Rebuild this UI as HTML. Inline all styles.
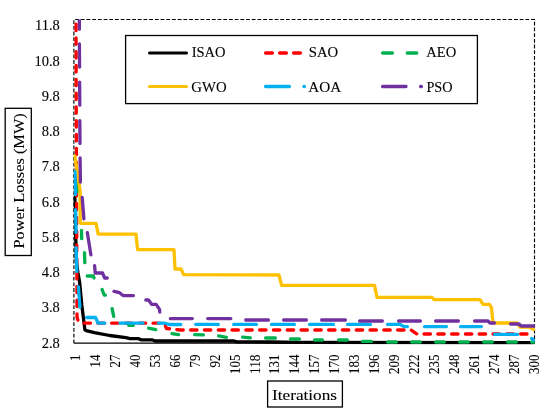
<!DOCTYPE html>
<html lang="en"><head><meta charset="utf-8"><title>Convergence curves</title>
<style>html,body{margin:0;padding:0;background:#fff;}body{width:550px;height:414px;overflow:hidden;}</style></head>
<body>
<svg width="550" height="414" viewBox="0 0 550 414" style="display:block">
<defs><clipPath id="plot"><rect x="73.5" y="19.5" width="461.5" height="325.2"/></clipPath></defs>
<rect width="550" height="414" fill="#ffffff"/>
<path d="M73.9,343.2 V19.5 H534.5 V343.2" fill="none" stroke="#000" stroke-width="1.15" stroke-dasharray="3.8 1.9"/>
<line x1="74.0" y1="343.2" x2="534.5" y2="343.2" stroke="#000" stroke-width="1.3"/>
<g clip-path="url(#plot)">
<path d="M74.8,197.0 L75.3,215.0 L75.8,240.0 L76.4,262.0 L78.0,273.0 L79.6,282.0 L81.8,305.0 L84.9,329.8 L86.2,330.6 L94.4,332.7 L109.6,335.5 L126.0,337.6 L130.0,338.7 L138.7,338.7 L141.0,339.8 L152.0,339.8 L155.0,341.0 L234.0,341.0 L237.0,341.8 L270.0,342.0 L300.0,342.4 L533.7,342.6" fill="none" stroke="#000000" stroke-width="3.3" stroke-linejoin="round" stroke-linecap="round"/>
<path d="M76.0,-3.5 L76.2,100.0 L76.6,200.0 L77.0,300.0 L77.0,317.0 L78.0,320.5 L80.0,322.6 L82.0,323.2 L164.5,323.2 L166.5,328.6 L171.0,328.8 L180.0,330.0 L411.0,330.0 L417.0,334.0 L533.7,334.0" fill="none" stroke="#FF0000" stroke-width="3.3" stroke-linejoin="round" stroke-linecap="round" stroke-dasharray="6.4 7.4"/>
<path d="M77.3,182.6 L77.6,191.4 M81.5,230.3 L81.7,238.6 M84.5,252.6 L84.8,262.7 M87.2,276.0 L93.3,276.0 L94.0,278.0 M102.1,289.5 L104.2,295.0 L105.4,295.2 M112.1,308.6 L113.7,316.4 M128.7,325.3 L133.3,325.3 M148.6,328.1 L155.7,329.7 M172.0,333.6 L178.6,334.7 M194.6,334.7 L203.4,334.9 M218.6,335.9 L226.4,337.3 M242.6,337.1 L250.4,337.9 M265.6,338.0 L275.4,338.0 M290.6,339.0 L299.4,339.0 M314.6,340.0 L322.4,340.0 M338.6,340.0 L347.4,340.0 M362.6,341.4 L371.4,341.4 M387.6,342.0 L396.4,342.0 M411.6,342.0 L420.4,342.0 M435.6,342.0 L444.4,342.0 M459.6,342.0 L468.4,342.0 M483.6,342.0 L492.4,342.0 M507.6,342.0 L516.4,342.0 M531.6,342.0 L538.4,342.0" fill="none" stroke="#00B050" stroke-width="3.3" stroke-linecap="round" stroke-linejoin="round"/>
<path d="M74.8,156.0 L78.6,180.0 L80.2,192.0 L80.2,223.3 L96.0,223.3 L98.2,234.2 L136.0,234.2 L137.6,249.6 L174.0,249.6 L175.0,269.0 L181.0,269.0 L183.6,274.6 L279.0,275.0 L281.6,285.4 L374.5,285.4 L377.0,297.4 L432.0,297.4 L434.0,299.6 L480.0,299.6 L483.0,304.4 L489.5,304.4 L491.5,308.0 L493.0,323.0 L517.0,323.0 L520.0,327.0 L529.0,327.0 L533.7,329.5" fill="none" stroke="#FFC000" stroke-width="3.3" stroke-linejoin="round" stroke-linecap="round"/>
<path d="M75.0,171.6 L75.5,194.4 M75.6,209.6 L76.0,232.4 M76.1,247.6 L76.9,271.4 M78.4,286.6 L79.9,307.1 M86.7,317.5 L95.5,317.5 L98.2,323.2 L104.8,323.2 M120.1,323.2 L143.0,323.2 M158.3,323.2 L165.0,323.2 L169.0,324.5 L180.8,324.5 M195.7,324.4 L218.3,324.4 M233.7,324.4 L256.4,324.4 M271.6,324.4 L294.4,324.4 M309.6,324.4 L333.4,324.4 M347.6,324.4 L370.4,324.4 M387.6,324.4 L400.0,324.4 L404.0,326.6 L407.4,326.6 M424.6,326.6 L446.4,326.6 M460.6,326.6 L481.4,326.6 M494.6,334.4 L517.4,334.4 M531.7,338.6 L533.3,339.9" fill="none" stroke="#00B0F0" stroke-width="3.3" stroke-linecap="round" stroke-linejoin="round"/>
<path d="M79.3,11.6 L79.4,29.2 M79.4,43.9 L79.6,67.0 M79.6,82.1 L79.8,105.2 M79.8,120.6 L80.0,143.4 M80.1,158.0 L80.4,182.0 M82.2,197.4 L83.9,218.8 M87.3,232.6 L90.9,254.8 M94.6,265.6 L95.2,273.0 L102.5,273.0 L104.7,278.0 L107.3,278.0 M114.0,291.4 L119.5,292.7 L123.0,295.5 L133.4,295.6 M145.8,300.0 L148.5,300.0 L151.8,304.4 L156.2,304.4 L159.5,309.3 L159.8,312.0 M170.3,318.6 L192.3,318.6 M207.7,318.6 L230.8,318.6 M245.7,320.0 L268.4,320.0 M283.6,320.0 L306.4,320.0 M321.6,320.0 L345.4,320.0 M359.6,321.0 L382.4,321.0 M398.6,321.0 L420.4,321.0 M435.6,321.0 L458.4,321.0 M474.6,321.0 L488.0,321.0 L490.0,323.0 L494.4,323.0 M510.6,324.0 L519.0,324.0 L521.0,326.0 L538.4,326.0" fill="none" stroke="#7030A0" stroke-width="3.3" stroke-linecap="round" stroke-linejoin="round"/>
</g>
<text x="59.8" y="347.7" text-anchor="end" font-size="14.5" font-family="'Liberation Serif', serif" fill="#000" stroke="#000" stroke-width="0.1">2.8</text>
<text x="59.8" y="312.4" text-anchor="end" font-size="14.5" font-family="'Liberation Serif', serif" fill="#000" stroke="#000" stroke-width="0.1">3.8</text>
<text x="59.8" y="277.1" text-anchor="end" font-size="14.5" font-family="'Liberation Serif', serif" fill="#000" stroke="#000" stroke-width="0.1">4.8</text>
<text x="59.8" y="241.9" text-anchor="end" font-size="14.5" font-family="'Liberation Serif', serif" fill="#000" stroke="#000" stroke-width="0.1">5.8</text>
<text x="59.8" y="206.6" text-anchor="end" font-size="14.5" font-family="'Liberation Serif', serif" fill="#000" stroke="#000" stroke-width="0.1">6.8</text>
<text x="59.8" y="171.3" text-anchor="end" font-size="14.5" font-family="'Liberation Serif', serif" fill="#000" stroke="#000" stroke-width="0.1">7.8</text>
<text x="59.8" y="136.0" text-anchor="end" font-size="14.5" font-family="'Liberation Serif', serif" fill="#000" stroke="#000" stroke-width="0.1">8.8</text>
<text x="59.8" y="100.7" text-anchor="end" font-size="14.5" font-family="'Liberation Serif', serif" fill="#000" stroke="#000" stroke-width="0.1">9.8</text>
<text x="59.8" y="65.5" text-anchor="end" font-size="14.5" font-family="'Liberation Serif', serif" fill="#000" stroke="#000" stroke-width="0.1">10.8</text>
<text x="59.8" y="30.2" text-anchor="end" font-size="14.5" font-family="'Liberation Serif', serif" fill="#000" stroke="#000" stroke-width="0.1">11.8</text>
<text transform="translate(79.9,361.1) rotate(-90)" font-size="14.5" textLength="6.5" lengthAdjust="spacingAndGlyphs" font-family="'Liberation Serif', serif" fill="#000" stroke="#000" stroke-width="0.1">1</text>
<text transform="translate(99.8,367.5) rotate(-90)" font-size="14.5" textLength="12.9" lengthAdjust="spacingAndGlyphs" font-family="'Liberation Serif', serif" fill="#000" stroke="#000" stroke-width="0.1">14</text>
<text transform="translate(119.8,367.5) rotate(-90)" font-size="14.5" textLength="12.9" lengthAdjust="spacingAndGlyphs" font-family="'Liberation Serif', serif" fill="#000" stroke="#000" stroke-width="0.1">27</text>
<text transform="translate(139.7,367.5) rotate(-90)" font-size="14.5" textLength="12.9" lengthAdjust="spacingAndGlyphs" font-family="'Liberation Serif', serif" fill="#000" stroke="#000" stroke-width="0.1">40</text>
<text transform="translate(159.7,367.5) rotate(-90)" font-size="14.5" textLength="12.9" lengthAdjust="spacingAndGlyphs" font-family="'Liberation Serif', serif" fill="#000" stroke="#000" stroke-width="0.1">53</text>
<text transform="translate(179.6,367.5) rotate(-90)" font-size="14.5" textLength="12.9" lengthAdjust="spacingAndGlyphs" font-family="'Liberation Serif', serif" fill="#000" stroke="#000" stroke-width="0.1">66</text>
<text transform="translate(199.6,367.5) rotate(-90)" font-size="14.5" textLength="12.9" lengthAdjust="spacingAndGlyphs" font-family="'Liberation Serif', serif" fill="#000" stroke="#000" stroke-width="0.1">79</text>
<text transform="translate(219.6,367.5) rotate(-90)" font-size="14.5" textLength="12.9" lengthAdjust="spacingAndGlyphs" font-family="'Liberation Serif', serif" fill="#000" stroke="#000" stroke-width="0.1">92</text>
<text transform="translate(239.5,374.0) rotate(-90)" font-size="14.5" textLength="19.4" lengthAdjust="spacingAndGlyphs" font-family="'Liberation Serif', serif" fill="#000" stroke="#000" stroke-width="0.1">105</text>
<text transform="translate(259.5,374.0) rotate(-90)" font-size="14.5" textLength="19.4" lengthAdjust="spacingAndGlyphs" font-family="'Liberation Serif', serif" fill="#000" stroke="#000" stroke-width="0.1">118</text>
<text transform="translate(279.4,374.0) rotate(-90)" font-size="14.5" textLength="19.4" lengthAdjust="spacingAndGlyphs" font-family="'Liberation Serif', serif" fill="#000" stroke="#000" stroke-width="0.1">131</text>
<text transform="translate(299.4,374.0) rotate(-90)" font-size="14.5" textLength="19.4" lengthAdjust="spacingAndGlyphs" font-family="'Liberation Serif', serif" fill="#000" stroke="#000" stroke-width="0.1">144</text>
<text transform="translate(319.3,374.0) rotate(-90)" font-size="14.5" textLength="19.4" lengthAdjust="spacingAndGlyphs" font-family="'Liberation Serif', serif" fill="#000" stroke="#000" stroke-width="0.1">157</text>
<text transform="translate(339.3,374.0) rotate(-90)" font-size="14.5" textLength="19.4" lengthAdjust="spacingAndGlyphs" font-family="'Liberation Serif', serif" fill="#000" stroke="#000" stroke-width="0.1">170</text>
<text transform="translate(359.2,374.0) rotate(-90)" font-size="14.5" textLength="19.4" lengthAdjust="spacingAndGlyphs" font-family="'Liberation Serif', serif" fill="#000" stroke="#000" stroke-width="0.1">183</text>
<text transform="translate(379.2,374.0) rotate(-90)" font-size="14.5" textLength="19.4" lengthAdjust="spacingAndGlyphs" font-family="'Liberation Serif', serif" fill="#000" stroke="#000" stroke-width="0.1">196</text>
<text transform="translate(399.1,374.0) rotate(-90)" font-size="14.5" textLength="19.4" lengthAdjust="spacingAndGlyphs" font-family="'Liberation Serif', serif" fill="#000" stroke="#000" stroke-width="0.1">209</text>
<text transform="translate(419.1,374.0) rotate(-90)" font-size="14.5" textLength="19.4" lengthAdjust="spacingAndGlyphs" font-family="'Liberation Serif', serif" fill="#000" stroke="#000" stroke-width="0.1">222</text>
<text transform="translate(439.1,374.0) rotate(-90)" font-size="14.5" textLength="19.4" lengthAdjust="spacingAndGlyphs" font-family="'Liberation Serif', serif" fill="#000" stroke="#000" stroke-width="0.1">235</text>
<text transform="translate(459.0,374.0) rotate(-90)" font-size="14.5" textLength="19.4" lengthAdjust="spacingAndGlyphs" font-family="'Liberation Serif', serif" fill="#000" stroke="#000" stroke-width="0.1">248</text>
<text transform="translate(479.0,374.0) rotate(-90)" font-size="14.5" textLength="19.4" lengthAdjust="spacingAndGlyphs" font-family="'Liberation Serif', serif" fill="#000" stroke="#000" stroke-width="0.1">261</text>
<text transform="translate(498.9,374.0) rotate(-90)" font-size="14.5" textLength="19.4" lengthAdjust="spacingAndGlyphs" font-family="'Liberation Serif', serif" fill="#000" stroke="#000" stroke-width="0.1">274</text>
<text transform="translate(518.9,374.0) rotate(-90)" font-size="14.5" textLength="19.4" lengthAdjust="spacingAndGlyphs" font-family="'Liberation Serif', serif" fill="#000" stroke="#000" stroke-width="0.1">287</text>
<text transform="translate(538.8,374.0) rotate(-90)" font-size="14.5" textLength="19.4" lengthAdjust="spacingAndGlyphs" font-family="'Liberation Serif', serif" fill="#000" stroke="#000" stroke-width="0.1">300</text>
<rect x="125.6" y="35.5" width="351.8" height="68.1" fill="#fff" stroke="#000" stroke-width="1.3"/>
<line x1="149.5" y1="53.0" x2="186.5" y2="53.0" stroke="#000000" stroke-width="3" stroke-linecap="round"/>
<line x1="149.5" y1="86.5" x2="186.5" y2="86.5" stroke="#FFC000" stroke-width="3" stroke-linecap="round"/>
<path d="M265.6,53.0 L272.4,53.0 M279.6,53.0 L286.4,53.0 M293.6,53.0 L300.4,53.0" fill="none" stroke="#FF0000" stroke-width="3.3" stroke-linecap="round" stroke-linejoin="round"/>
<path d="M265.6,86.5 L289.4,86.5 M304.0,86.5 L304.4,86.5" fill="none" stroke="#00B0F0" stroke-width="3.3" stroke-linecap="round" stroke-linejoin="round"/>
<path d="M382.6,53.0 L392.4,53.0 M407.2,53.0 L416.8,53.0" fill="none" stroke="#00B050" stroke-width="3.3" stroke-linecap="round" stroke-linejoin="round"/>
<path d="M382.6,86.5 L406.0,86.5 M420.6,86.5 L421.4,86.5" fill="none" stroke="#7030A0" stroke-width="3.3" stroke-linecap="round" stroke-linejoin="round"/>
<text x="191.7" y="57.2" font-size="14.5" font-family="'Liberation Serif', serif" fill="#000" stroke="#000" stroke-width="0.1" textLength="33.9" lengthAdjust="spacingAndGlyphs">ISAO</text>
<text x="191.3" y="91.7" font-size="14.5" font-family="'Liberation Serif', serif" fill="#000" stroke="#000" stroke-width="0.1" textLength="35.3" lengthAdjust="spacingAndGlyphs">GWO</text>
<text x="308.8" y="57.2" font-size="14.5" font-family="'Liberation Serif', serif" fill="#000" stroke="#000" stroke-width="0.1" textLength="29.4" lengthAdjust="spacingAndGlyphs">SAO</text>
<text x="308.2" y="91.7" font-size="14.5" font-family="'Liberation Serif', serif" fill="#000" stroke="#000" stroke-width="0.1" textLength="33.0" lengthAdjust="spacingAndGlyphs">AOA</text>
<text x="426.2" y="57.2" font-size="14.5" font-family="'Liberation Serif', serif" fill="#000" stroke="#000" stroke-width="0.1" textLength="30.0" lengthAdjust="spacingAndGlyphs">AEO</text>
<text x="426.4" y="91.7" font-size="14.5" font-family="'Liberation Serif', serif" fill="#000" stroke="#000" stroke-width="0.1" textLength="26.2" lengthAdjust="spacingAndGlyphs">PSO</text>
<rect x="267.6" y="381" width="74.8" height="26" fill="#fff" stroke="#000" stroke-width="1.3"/>
<text x="272" y="400" font-size="15" font-family="'Liberation Serif', serif" fill="#000" stroke="#000" stroke-width="0.1" textLength="65" lengthAdjust="spacingAndGlyphs">Iterations</text>
<rect x="5.2" y="108.3" width="26.1" height="147.2" fill="#fff" stroke="#000" stroke-width="1.3"/>
<text transform="translate(23.7,248.6) rotate(-90)" font-size="15" font-family="'Liberation Serif', serif" fill="#000" stroke="#000" stroke-width="0.1" textLength="135.4" lengthAdjust="spacingAndGlyphs">Power Losses (MW)</text>
</svg>
</body></html>
